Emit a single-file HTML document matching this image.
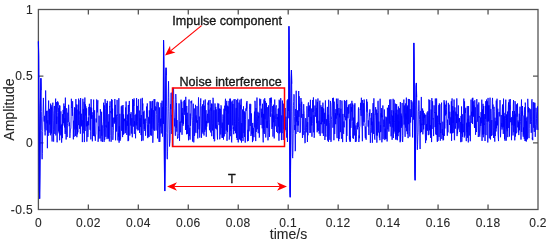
<!DOCTYPE html>
<html><head><meta charset="utf-8"><style>
html,body{margin:0;padding:0;background:#fff;}
body{width:550px;height:243px;overflow:hidden;}
svg{display:block;}
text{font-family:"Liberation Sans",Arial,sans-serif;fill:#262626;}
.an{stroke:#000;stroke-width:0.3px;}
.tl{stroke:#262626;stroke-width:0.1px;}
.tk{letter-spacing:0.35px;}
</style></head><body>
<svg width="550" height="243" viewBox="0 0 550 243">
<rect x="38.4" y="9.5" width="499.6" height="200" fill="none" stroke="#555555" stroke-width="1.3"/>
<path d="M88.36 209.5v-5M88.36 9.5v5M138.32 209.5v-5M138.32 9.5v5M188.28 209.5v-5M188.28 9.5v5M238.24 209.5v-5M238.24 9.5v5M288.20 209.5v-5M288.20 9.5v5M338.16 209.5v-5M338.16 9.5v5M388.12 209.5v-5M388.12 9.5v5M438.08 209.5v-5M438.08 9.5v5M488.04 209.5v-5M488.04 9.5v5M38.4 142.83h5M538.0 142.83h-5M38.4 76.17h5M538.0 76.17h-5" stroke="#555555" stroke-width="1.3" fill="none"/>
<path d="M38.40 41.37 L38.65 55.72 L38.90 103.07 L39.15 142.67 L39.40 189.64 L39.65 198.65 L39.90 175.00 L40.15 142.05 L40.40 105.72 L40.65 91.63 L40.90 78.23 L41.15 90.27 L41.40 111.60 L41.65 130.60 L41.90 155.84 L42.15 159.23 L42.40 153.39 L42.65 131.62 L42.90 116.63 L43.15 106.03 L43.40 97.93 L43.65 108.02 L43.90 115.12 L44.15 121.52 L44.40 115.84 L44.64 129.11 L44.89 132.73 L45.14 135.42 L45.39 132.13 L45.64 90.50 L45.89 109.80 L46.14 130.31 L46.39 111.98 L46.64 111.00 L46.89 123.29 L47.14 110.75 L47.39 148.21 L47.64 121.42 L47.89 120.31 L48.14 135.86 L48.39 108.98 L48.64 100.57 L48.89 114.67 L49.14 132.72 L49.39 108.85 L49.64 124.46 L49.89 123.23 L50.14 109.96 L50.39 135.28 L50.64 103.62 L50.89 109.48 L51.14 105.36 L51.39 133.51 L51.64 107.29 L51.89 136.19 L52.14 141.48 L52.39 105.83 L52.64 104.42 L52.89 102.68 L53.14 120.42 L53.39 129.23 L53.64 141.62 L53.89 113.24 L54.14 110.61 L54.39 105.96 L54.64 131.22 L54.89 133.95 L55.14 114.16 L55.39 106.13 L55.64 98.64 L55.89 135.42 L56.14 120.53 L56.39 102.12 L56.64 123.88 L56.89 116.61 L57.13 142.30 L57.38 112.74 L57.63 101.32 L57.88 105.25 L58.13 102.44 L58.38 112.61 L58.63 131.48 L58.88 107.92 L59.13 133.34 L59.38 105.40 L59.63 140.28 L59.88 105.63 L60.13 135.45 L60.38 125.78 L60.63 128.35 L60.88 111.35 L61.13 134.63 L61.38 124.83 L61.63 142.62 L61.88 131.06 L62.13 123.88 L62.38 138.14 L62.63 114.17 L62.88 125.56 L63.13 109.89 L63.38 113.12 L63.63 123.23 L63.88 103.50 L64.13 114.20 L64.38 106.16 L64.63 127.41 L64.88 118.24 L65.13 133.95 L65.38 97.66 L65.63 131.78 L65.88 131.15 L66.13 139.49 L66.38 131.14 L66.63 108.25 L66.88 111.23 L67.13 137.04 L67.38 125.80 L67.63 123.76 L67.88 112.68 L68.13 122.15 L68.38 116.23 L68.63 104.75 L68.88 109.90 L69.13 126.29 L69.38 122.52 L69.62 126.18 L69.87 137.87 L70.12 133.62 L70.37 129.96 L70.62 128.58 L70.87 128.63 L71.12 116.68 L71.37 98.78 L71.62 107.72 L71.87 106.98 L72.12 108.42 L72.37 115.78 L72.62 101.23 L72.87 111.57 L73.12 120.15 L73.37 139.33 L73.62 120.69 L73.87 133.18 L74.12 136.82 L74.37 119.90 L74.62 107.25 L74.87 129.46 L75.12 107.98 L75.37 119.00 L75.62 136.07 L75.87 99.09 L76.12 124.62 L76.37 129.45 L76.62 104.44 L76.87 137.19 L77.12 109.58 L77.37 134.32 L77.62 125.04 L77.87 132.32 L78.12 104.70 L78.37 125.15 L78.62 98.65 L78.87 114.49 L79.12 111.39 L79.37 119.19 L79.62 128.83 L79.87 124.90 L80.12 100.18 L80.37 133.71 L80.62 98.03 L80.87 108.46 L81.12 126.52 L81.37 113.75 L81.62 125.56 L81.87 125.54 L82.12 119.99 L82.36 142.08 L82.61 120.46 L82.86 98.79 L83.11 129.89 L83.36 108.91 L83.61 122.76 L83.86 133.35 L84.11 101.81 L84.36 142.07 L84.61 129.07 L84.86 97.54 L85.11 130.95 L85.36 104.34 L85.61 115.38 L85.86 106.29 L86.11 114.26 L86.36 126.39 L86.61 108.34 L86.86 141.63 L87.11 122.58 L87.36 125.98 L87.61 121.21 L87.86 137.05 L88.11 132.75 L88.36 117.35 L88.61 125.25 L88.86 106.94 L89.11 115.40 L89.36 103.79 L89.61 109.63 L89.86 115.55 L90.11 129.79 L90.36 107.35 L90.61 131.44 L90.86 139.42 L91.11 99.18 L91.36 118.35 L91.61 107.75 L91.86 118.84 L92.11 115.11 L92.36 141.30 L92.61 134.37 L92.86 112.25 L93.11 116.97 L93.36 135.65 L93.61 99.67 L93.86 135.84 L94.11 119.70 L94.36 136.31 L94.60 110.31 L94.85 130.31 L95.10 136.75 L95.35 140.75 L95.60 134.91 L95.85 134.14 L96.10 118.49 L96.35 122.39 L96.60 99.44 L96.85 99.58 L97.10 106.72 L97.35 112.39 L97.60 104.53 L97.85 100.28 L98.10 141.81 L98.35 137.48 L98.60 126.50 L98.85 138.59 L99.10 115.65 L99.35 131.03 L99.60 130.85 L99.85 129.76 L100.10 138.40 L100.35 109.24 L100.60 113.34 L100.85 115.34 L101.10 141.29 L101.35 123.36 L101.60 111.77 L101.85 135.75 L102.10 125.35 L102.35 141.93 L102.60 139.12 L102.85 133.02 L103.10 124.04 L103.35 121.83 L103.60 102.74 L103.85 128.48 L104.10 141.86 L104.35 105.38 L104.60 140.03 L104.85 138.62 L105.10 99.17 L105.35 108.68 L105.60 127.52 L105.85 136.84 L106.10 125.30 L106.35 127.46 L106.60 103.19 L106.85 123.85 L107.09 139.11 L107.34 100.82 L107.59 114.62 L107.84 137.54 L108.09 137.70 L108.34 121.71 L108.59 138.66 L108.84 114.19 L109.09 114.89 L109.34 141.38 L109.59 106.23 L109.84 107.17 L110.09 101.34 L110.34 112.45 L110.59 111.42 L110.84 135.41 L111.09 141.75 L111.34 139.86 L111.59 99.11 L111.84 113.56 L112.09 99.91 L112.34 126.99 L112.59 108.60 L112.84 139.87 L113.09 135.30 L113.34 130.27 L113.59 117.89 L113.84 117.56 L114.09 120.21 L114.34 123.59 L114.59 116.73 L114.84 99.01 L115.09 122.07 L115.34 104.87 L115.59 140.30 L115.84 125.35 L116.09 117.42 L116.34 114.71 L116.59 131.50 L116.84 124.73 L117.09 99.90 L117.34 113.42 L117.59 116.31 L117.84 139.87 L118.09 140.47 L118.34 133.25 L118.59 136.59 L118.84 98.24 L119.09 142.71 L119.34 126.25 L119.59 140.18 L119.83 113.82 L120.08 140.72 L120.33 139.73 L120.58 139.21 L120.83 130.51 L121.08 116.71 L121.33 106.32 L121.58 130.72 L121.83 130.00 L122.08 105.46 L122.33 109.02 L122.58 137.08 L122.83 106.28 L123.08 105.15 L123.33 134.77 L123.58 114.41 L123.83 133.91 L124.08 131.79 L124.33 120.44 L124.58 119.16 L124.83 121.12 L125.08 118.30 L125.33 133.17 L125.58 107.54 L125.83 130.24 L126.08 101.46 L126.33 119.48 L126.58 129.07 L126.83 134.93 L127.08 120.84 L127.33 125.77 L127.58 114.59 L127.83 120.24 L128.08 141.16 L128.33 105.07 L128.58 140.49 L128.83 105.32 L129.08 105.99 L129.33 100.95 L129.58 112.71 L129.83 135.55 L130.08 122.80 L130.33 122.91 L130.58 114.17 L130.83 125.56 L131.08 112.20 L131.33 133.59 L131.58 126.81 L131.83 118.20 L132.07 123.45 L132.32 137.28 L132.57 99.05 L132.82 111.49 L133.07 105.07 L133.32 126.63 L133.57 100.00 L133.82 106.00 L134.07 98.43 L134.32 133.88 L134.57 121.20 L134.82 125.34 L135.07 115.00 L135.32 131.49 L135.57 138.28 L135.82 121.23 L136.07 113.84 L136.32 125.42 L136.57 98.07 L136.82 124.43 L137.07 129.24 L137.32 105.94 L137.57 121.68 L137.82 130.45 L138.07 129.85 L138.32 99.90 L138.57 99.23 L138.82 113.54 L139.07 130.20 L139.32 110.58 L139.57 133.01 L139.82 128.23 L140.07 118.27 L140.32 124.65 L140.57 126.92 L140.82 98.67 L141.07 135.12 L141.32 115.01 L141.57 141.09 L141.82 138.68 L142.07 133.31 L142.32 97.88 L142.57 109.90 L142.82 103.48 L143.07 140.59 L143.32 111.94 L143.57 122.89 L143.82 123.96 L144.07 110.73 L144.32 128.86 L144.56 119.56 L144.81 131.01 L145.06 125.09 L145.31 118.66 L145.56 135.68 L145.81 130.31 L146.06 123.77 L146.31 121.40 L146.56 106.57 L146.81 113.69 L147.06 117.33 L147.31 103.40 L147.56 133.89 L147.81 138.11 L148.06 124.98 L148.31 136.61 L148.56 117.63 L148.81 116.83 L149.06 136.87 L149.31 110.37 L149.56 117.60 L149.81 123.65 L150.06 101.24 L150.31 104.03 L150.56 132.82 L150.81 135.28 L151.06 101.33 L151.31 135.70 L151.56 108.51 L151.81 128.67 L152.06 126.46 L152.31 117.73 L152.56 100.86 L152.81 142.74 L153.06 135.48 L153.31 110.18 L153.56 124.95 L153.81 129.79 L154.06 99.18 L154.31 130.86 L154.56 110.46 L154.81 99.12 L155.06 108.25 L155.31 110.67 L155.56 110.05 L155.81 106.33 L156.06 130.54 L156.31 114.42 L156.56 106.44 L156.81 102.57 L157.06 101.77 L157.30 101.86 L157.55 138.41 L157.80 125.77 L158.05 122.14 L158.30 102.41 L158.55 123.83 L158.80 130.82 L159.05 141.93 L159.30 129.74 L159.55 107.44 L159.80 141.92 L160.05 135.35 L160.30 128.74 L160.55 118.72 L160.80 126.38 L161.05 102.82 L161.30 133.43 L161.55 117.37 L161.80 107.57 L162.05 100.69 L162.30 103.24 L162.55 136.69 L162.80 106.94 L163.05 112.22 L163.30 123.72 L163.55 40.21 L163.80 57.93 L164.05 93.24 L164.30 147.92 L164.55 179.95 L164.80 191.08 L165.05 170.08 L165.30 141.01 L165.55 106.45 L165.80 75.59 L166.05 67.72 L166.30 75.62 L166.55 106.84 L166.80 132.66 L167.05 156.50 L167.30 159.22 L167.55 151.13 L167.80 133.48 L168.05 108.61 L168.30 91.13 L168.55 81.26 L168.80 97.44 L169.05 111.23 L169.30 129.14 L169.54 146.50 L169.79 143.43 L170.04 141.65 L170.29 131.90 L170.54 104.22 L170.79 109.18 L171.04 93.20 L171.29 92.70 L171.54 130.66 L171.79 134.01 L172.04 114.96 L172.29 116.71 L172.54 111.51 L172.79 145.89 L173.04 100.60 L173.29 88.50 L173.54 87.84 L173.79 99.51 L174.04 108.22 L174.29 114.02 L174.54 126.30 L174.79 118.36 L175.04 128.79 L175.29 135.77 L175.54 135.52 L175.79 94.05 L176.04 99.62 L176.29 127.84 L176.54 103.01 L176.79 131.65 L177.04 120.09 L177.29 133.87 L177.54 138.68 L177.79 136.90 L178.04 137.68 L178.29 134.61 L178.54 133.97 L178.79 134.32 L179.04 103.40 L179.29 120.91 L179.54 140.88 L179.79 123.61 L180.04 121.78 L180.29 121.61 L180.54 132.24 L180.79 120.05 L181.04 99.70 L181.29 122.61 L181.54 118.95 L181.79 101.65 L182.03 134.75 L182.28 112.86 L182.53 123.16 L182.78 107.96 L183.03 125.74 L183.28 116.27 L183.53 123.81 L183.78 101.76 L184.03 100.70 L184.28 114.82 L184.53 99.94 L184.78 111.51 L185.03 106.63 L185.28 102.80 L185.53 130.00 L185.78 96.85 L186.03 123.65 L186.28 119.14 L186.53 134.24 L186.78 105.99 L187.03 128.57 L187.28 112.77 L187.53 133.85 L187.78 127.24 L188.03 125.09 L188.28 131.30 L188.53 140.30 L188.78 107.18 L189.03 99.48 L189.28 132.83 L189.53 136.10 L189.78 127.83 L190.03 139.67 L190.28 113.59 L190.53 125.92 L190.78 116.82 L191.03 101.16 L191.28 103.31 L191.53 100.88 L191.78 100.61 L192.03 116.50 L192.28 120.55 L192.53 141.50 L192.78 138.33 L193.03 118.95 L193.28 103.70 L193.53 122.84 L193.78 142.37 L194.03 133.10 L194.28 108.49 L194.53 135.91 L194.77 134.09 L195.02 130.13 L195.27 115.30 L195.52 104.83 L195.77 132.70 L196.02 115.41 L196.27 118.62 L196.52 122.60 L196.77 116.59 L197.02 106.09 L197.27 133.17 L197.52 120.44 L197.77 138.45 L198.02 119.51 L198.27 106.84 L198.52 97.41 L198.77 121.15 L199.02 129.34 L199.27 116.60 L199.52 126.09 L199.77 137.65 L200.02 119.15 L200.27 106.64 L200.52 102.40 L200.77 98.41 L201.02 126.06 L201.27 131.35 L201.52 137.78 L201.77 123.08 L202.02 106.32 L202.27 132.28 L202.52 104.38 L202.77 110.59 L203.02 133.70 L203.27 114.14 L203.52 105.61 L203.77 100.49 L204.02 135.46 L204.27 105.59 L204.52 107.70 L204.77 131.84 L205.02 129.52 L205.27 99.46 L205.52 126.41 L205.77 129.70 L206.02 110.15 L206.27 136.78 L206.52 120.92 L206.77 126.61 L207.02 118.20 L207.26 115.52 L207.51 113.84 L207.76 123.24 L208.01 102.62 L208.26 104.93 L208.51 100.50 L208.76 122.60 L209.01 109.73 L209.26 123.32 L209.51 130.21 L209.76 113.30 L210.01 99.96 L210.26 106.38 L210.51 129.90 L210.76 132.48 L211.01 107.84 L211.26 110.85 L211.51 103.68 L211.76 136.20 L212.01 103.78 L212.26 123.23 L212.51 130.45 L212.76 127.28 L213.01 97.79 L213.26 99.48 L213.51 139.03 L213.76 128.54 L214.01 110.21 L214.26 141.23 L214.51 141.21 L214.76 140.81 L215.01 103.47 L215.26 127.71 L215.51 128.38 L215.76 106.86 L216.01 128.38 L216.26 109.35 L216.51 126.09 L216.76 129.35 L217.01 125.28 L217.26 135.22 L217.51 139.44 L217.76 103.34 L218.01 103.47 L218.26 121.94 L218.51 111.62 L218.76 103.72 L219.01 125.12 L219.26 110.57 L219.50 108.62 L219.75 139.30 L220.00 136.57 L220.25 108.82 L220.50 110.84 L220.75 134.43 L221.00 105.35 L221.25 106.52 L221.50 127.75 L221.75 127.41 L222.00 137.82 L222.25 122.64 L222.50 137.86 L222.75 118.20 L223.00 114.52 L223.25 116.45 L223.50 139.58 L223.75 114.65 L224.00 108.73 L224.25 136.40 L224.50 115.86 L224.75 105.70 L225.00 134.06 L225.25 101.43 L225.50 98.77 L225.75 110.57 L226.00 103.30 L226.25 130.51 L226.50 112.69 L226.75 100.85 L227.00 140.81 L227.25 105.62 L227.50 132.09 L227.75 106.52 L228.00 113.71 L228.25 106.50 L228.50 124.65 L228.75 122.42 L229.00 100.93 L229.25 139.60 L229.50 135.75 L229.75 98.73 L230.00 101.43 L230.25 136.18 L230.50 98.70 L230.75 130.80 L231.00 102.39 L231.25 101.82 L231.50 141.76 L231.75 142.39 L232.00 128.01 L232.24 100.62 L232.49 106.96 L232.74 125.30 L232.99 103.94 L233.24 128.89 L233.49 127.08 L233.74 134.20 L233.99 99.33 L234.24 106.40 L234.49 121.87 L234.74 130.85 L234.99 99.04 L235.24 124.84 L235.49 133.28 L235.74 123.58 L235.99 110.23 L236.24 107.90 L236.49 137.89 L236.74 99.95 L236.99 112.25 L237.24 140.00 L237.49 104.87 L237.74 98.77 L237.99 104.86 L238.24 142.39 L238.49 121.39 L238.74 116.12 L238.99 102.58 L239.24 120.04 L239.49 139.33 L239.74 100.51 L239.99 99.69 L240.24 120.79 L240.49 140.41 L240.74 104.80 L240.99 109.21 L241.24 98.80 L241.49 142.50 L241.74 123.09 L241.99 129.97 L242.24 137.95 L242.49 109.51 L242.74 127.36 L242.99 141.07 L243.24 136.78 L243.49 106.29 L243.74 115.37 L243.99 133.08 L244.24 111.28 L244.49 136.92 L244.73 112.32 L244.98 113.14 L245.23 142.58 L245.48 119.64 L245.73 109.91 L245.98 108.45 L246.23 110.84 L246.48 102.71 L246.73 108.55 L246.98 101.04 L247.23 124.03 L247.48 141.28 L247.73 134.63 L247.98 129.79 L248.23 140.94 L248.48 137.93 L248.73 119.32 L248.98 131.39 L249.23 129.89 L249.48 109.22 L249.73 104.09 L249.98 103.75 L250.23 126.03 L250.48 110.66 L250.73 104.20 L250.98 135.99 L251.23 133.74 L251.48 113.46 L251.73 130.80 L251.98 134.10 L252.23 126.17 L252.48 142.11 L252.73 122.96 L252.98 140.69 L253.23 131.74 L253.48 132.97 L253.73 127.90 L253.98 137.15 L254.23 121.47 L254.48 111.65 L254.73 127.47 L254.98 100.80 L255.23 103.86 L255.48 128.96 L255.73 141.07 L255.98 108.01 L256.23 131.95 L256.48 127.78 L256.73 116.57 L256.97 97.55 L257.22 129.25 L257.47 121.59 L257.72 114.39 L257.97 111.85 L258.22 133.22 L258.47 115.85 L258.72 118.17 L258.97 112.98 L259.22 137.62 L259.47 137.11 L259.72 98.61 L259.97 105.60 L260.22 105.32 L260.47 100.49 L260.72 99.28 L260.97 125.00 L261.22 108.65 L261.47 113.75 L261.72 117.45 L261.97 112.04 L262.22 128.35 L262.47 103.75 L262.72 124.38 L262.97 136.12 L263.22 142.34 L263.47 113.86 L263.72 132.33 L263.97 99.49 L264.22 133.99 L264.47 128.50 L264.72 98.22 L264.97 119.27 L265.22 101.03 L265.47 107.41 L265.72 137.44 L265.97 133.04 L266.22 125.28 L266.47 102.90 L266.72 127.69 L266.97 121.84 L267.22 121.04 L267.47 128.11 L267.72 107.18 L267.97 140.35 L268.22 132.59 L268.47 105.43 L268.72 114.89 L268.97 119.63 L269.22 126.08 L269.46 136.93 L269.71 122.13 L269.96 98.09 L270.21 115.86 L270.46 116.70 L270.71 97.95 L270.96 102.70 L271.21 97.54 L271.46 99.60 L271.71 112.57 L271.96 128.99 L272.21 114.36 L272.46 127.05 L272.71 106.08 L272.96 136.61 L273.21 121.86 L273.46 104.72 L273.71 122.23 L273.96 115.59 L274.21 138.38 L274.46 129.91 L274.71 99.56 L274.96 113.05 L275.21 126.29 L275.46 119.40 L275.71 107.71 L275.96 107.13 L276.21 105.30 L276.46 129.70 L276.71 132.03 L276.96 113.89 L277.21 118.93 L277.46 117.23 L277.71 133.10 L277.96 128.39 L278.21 108.74 L278.46 126.59 L278.71 108.49 L278.96 140.72 L279.21 99.73 L279.46 133.40 L279.71 121.15 L279.96 101.09 L280.21 131.34 L280.46 132.53 L280.71 98.15 L280.96 101.83 L281.21 118.70 L281.46 140.07 L281.71 115.42 L281.95 131.43 L282.20 133.13 L282.45 100.58 L282.70 114.75 L282.95 122.70 L283.20 139.99 L283.45 125.99 L283.70 103.67 L283.95 129.11 L284.20 128.20 L284.45 115.32 L284.70 131.40 L284.95 117.59 L285.20 107.99 L285.45 129.84 L285.70 121.40 L285.95 116.71 L286.20 126.36 L286.45 132.70 L286.70 137.65 L286.95 117.20 L287.20 100.34 L287.45 141.98 L287.70 103.59 L287.95 99.20 L288.20 118.25 L288.45 98.96 L288.70 110.88 L288.95 26.32 L289.20 49.47 L289.45 94.97 L289.70 145.81 L289.95 191.48 L290.20 197.24 L290.45 180.85 L290.70 139.98 L290.95 97.32 L291.20 79.19 L291.45 70.04 L291.70 83.69 L291.95 111.20 L292.20 133.99 L292.45 156.20 L292.70 158.15 L292.95 152.27 L293.20 133.30 L293.45 105.83 L293.70 101.51 L293.95 94.29 L294.20 95.89 L294.44 116.30 L294.69 130.08 L294.94 124.92 L295.19 151.16 L295.44 150.07 L295.69 109.02 L295.94 133.95 L296.19 90.74 L296.44 113.11 L296.69 121.66 L296.94 116.49 L297.19 125.50 L297.44 110.39 L297.69 121.86 L297.94 131.99 L298.19 121.07 L298.44 125.45 L298.69 91.01 L298.94 116.87 L299.19 96.23 L299.44 110.77 L299.69 103.81 L299.94 132.96 L300.19 131.16 L300.44 131.59 L300.69 107.32 L300.94 98.01 L301.19 101.46 L301.44 117.72 L301.69 101.71 L301.94 108.46 L302.19 120.68 L302.44 137.92 L302.69 136.01 L302.94 113.95 L303.19 134.91 L303.44 116.54 L303.69 104.19 L303.94 110.64 L304.19 113.25 L304.44 130.45 L304.69 138.15 L304.94 143.16 L305.19 142.91 L305.44 133.98 L305.69 118.15 L305.94 123.14 L306.19 132.38 L306.44 127.71 L306.69 120.86 L306.94 106.23 L307.18 113.51 L307.43 142.00 L307.68 122.20 L307.93 135.31 L308.18 104.41 L308.43 102.45 L308.68 117.03 L308.93 108.68 L309.18 111.11 L309.43 105.59 L309.68 130.42 L309.93 133.00 L310.18 109.66 L310.43 99.85 L310.68 132.59 L310.93 116.95 L311.18 117.80 L311.43 125.48 L311.68 108.50 L311.93 136.74 L312.18 126.10 L312.43 123.60 L312.68 99.99 L312.93 112.09 L313.18 110.70 L313.43 97.43 L313.68 132.35 L313.93 115.24 L314.18 137.78 L314.43 135.40 L314.68 111.34 L314.93 105.56 L315.18 114.21 L315.43 116.70 L315.68 107.05 L315.93 99.44 L316.18 100.77 L316.43 106.04 L316.68 123.15 L316.93 108.06 L317.18 132.27 L317.43 101.94 L317.68 130.26 L317.93 98.47 L318.18 129.19 L318.43 130.84 L318.68 127.53 L318.93 120.77 L319.18 133.70 L319.43 130.86 L319.67 102.77 L319.92 100.66 L320.17 135.85 L320.42 122.87 L320.67 123.82 L320.92 105.27 L321.17 112.86 L321.42 124.30 L321.67 107.05 L321.92 115.39 L322.17 133.35 L322.42 106.93 L322.67 121.76 L322.92 102.65 L323.17 112.69 L323.42 135.97 L323.67 108.51 L323.92 116.46 L324.17 118.27 L324.42 123.80 L324.67 112.79 L324.92 139.98 L325.17 120.01 L325.42 100.44 L325.67 133.55 L325.92 136.62 L326.17 124.21 L326.42 119.27 L326.67 125.76 L326.92 120.89 L327.17 112.25 L327.42 106.90 L327.67 140.50 L327.92 125.54 L328.17 114.76 L328.42 141.88 L328.67 99.80 L328.92 113.78 L329.17 120.84 L329.42 122.51 L329.67 136.16 L329.92 139.83 L330.17 111.97 L330.42 100.95 L330.67 106.91 L330.92 141.86 L331.17 141.06 L331.42 119.59 L331.67 116.84 L331.91 115.34 L332.16 103.12 L332.41 102.13 L332.66 97.99 L332.91 127.71 L333.16 121.59 L333.41 97.79 L333.66 111.08 L333.91 140.23 L334.16 101.60 L334.41 114.88 L334.66 134.05 L334.91 127.07 L335.16 116.65 L335.41 113.24 L335.66 124.21 L335.91 109.09 L336.16 118.68 L336.41 98.64 L336.66 104.14 L336.91 136.03 L337.16 138.16 L337.41 104.14 L337.66 115.28 L337.91 98.58 L338.16 123.08 L338.41 134.70 L338.66 141.16 L338.91 107.99 L339.16 139.05 L339.41 113.64 L339.66 117.29 L339.91 109.31 L340.16 100.04 L340.41 132.11 L340.66 120.96 L340.91 108.76 L341.16 133.66 L341.41 138.66 L341.66 136.58 L341.91 100.60 L342.16 107.05 L342.41 133.75 L342.66 142.11 L342.91 113.92 L343.16 128.24 L343.41 132.50 L343.66 133.79 L343.91 121.43 L344.16 127.32 L344.40 100.21 L344.65 117.18 L344.90 102.03 L345.15 100.92 L345.40 102.03 L345.65 120.24 L345.90 116.39 L346.15 118.61 L346.40 141.91 L346.65 99.93 L346.90 135.98 L347.15 117.74 L347.40 111.89 L347.65 107.19 L347.90 118.25 L348.15 113.86 L348.40 105.34 L348.65 113.66 L348.90 112.60 L349.15 104.12 L349.40 139.51 L349.65 119.33 L349.90 141.63 L350.15 135.97 L350.40 141.54 L350.65 103.56 L350.90 127.89 L351.15 119.21 L351.40 107.14 L351.65 111.60 L351.90 100.84 L352.15 120.63 L352.40 110.99 L352.65 103.50 L352.90 137.97 L353.15 121.53 L353.40 138.84 L353.65 117.58 L353.90 128.63 L354.15 104.73 L354.40 121.60 L354.65 135.45 L354.90 103.24 L355.15 123.53 L355.40 141.94 L355.65 130.65 L355.90 125.47 L356.15 141.64 L356.40 136.48 L356.65 129.39 L356.89 127.53 L357.14 123.00 L357.39 129.34 L357.64 128.30 L357.89 121.89 L358.14 126.88 L358.39 108.84 L358.64 107.42 L358.89 142.03 L359.14 135.49 L359.39 138.22 L359.64 126.84 L359.89 126.68 L360.14 108.87 L360.39 109.76 L360.64 102.83 L360.89 111.87 L361.14 115.84 L361.39 97.76 L361.64 113.73 L361.89 125.18 L362.14 129.02 L362.39 141.21 L362.64 100.03 L362.89 108.71 L363.14 125.74 L363.39 103.17 L363.64 108.25 L363.89 121.75 L364.14 99.50 L364.39 102.38 L364.64 122.61 L364.89 123.48 L365.14 135.96 L365.39 138.19 L365.64 126.64 L365.89 133.10 L366.14 139.72 L366.39 109.49 L366.64 99.26 L366.89 111.67 L367.14 101.70 L367.39 103.38 L367.64 113.55 L367.89 119.14 L368.14 126.61 L368.39 120.39 L368.64 128.27 L368.89 135.03 L369.14 120.38 L369.38 112.86 L369.63 116.30 L369.88 109.39 L370.13 127.60 L370.38 142.83 L370.63 133.19 L370.88 129.70 L371.13 117.76 L371.38 125.18 L371.63 113.02 L371.88 132.68 L372.13 121.62 L372.38 142.73 L372.63 111.72 L372.88 103.60 L373.13 103.91 L373.38 103.18 L373.63 133.94 L373.88 98.34 L374.13 117.84 L374.38 134.42 L374.63 138.71 L374.88 139.62 L375.13 113.96 L375.38 114.34 L375.63 107.17 L375.88 112.98 L376.13 119.29 L376.38 135.45 L376.63 109.54 L376.88 142.65 L377.13 112.90 L377.38 135.34 L377.63 135.63 L377.88 101.76 L378.13 100.80 L378.38 110.18 L378.63 132.47 L378.88 121.55 L379.13 127.14 L379.38 137.50 L379.63 132.10 L379.88 140.21 L380.13 98.76 L380.38 132.12 L380.63 125.28 L380.88 131.65 L381.13 113.31 L381.38 117.33 L381.63 108.12 L381.88 142.32 L382.12 133.55 L382.37 115.69 L382.62 116.70 L382.87 105.46 L383.12 139.18 L383.37 126.01 L383.62 124.53 L383.87 119.58 L384.12 126.90 L384.37 109.53 L384.62 138.10 L384.87 140.08 L385.12 128.62 L385.37 138.78 L385.62 125.04 L385.87 116.61 L386.12 139.02 L386.37 121.99 L386.62 117.66 L386.87 117.24 L387.12 141.46 L387.37 107.78 L387.62 110.10 L387.87 129.37 L388.12 121.47 L388.37 109.32 L388.62 105.02 L388.87 131.60 L389.12 107.89 L389.37 123.60 L389.62 99.62 L389.87 103.01 L390.12 126.60 L390.37 126.52 L390.62 120.81 L390.87 99.28 L391.12 136.31 L391.37 117.95 L391.62 113.47 L391.87 110.19 L392.12 139.79 L392.37 115.66 L392.62 122.41 L392.87 127.45 L393.12 98.84 L393.37 138.03 L393.62 110.71 L393.87 133.57 L394.12 99.85 L394.36 120.15 L394.61 122.28 L394.86 131.57 L395.11 118.64 L395.36 103.65 L395.61 139.57 L395.86 112.99 L396.11 136.19 L396.36 132.63 L396.61 104.13 L396.86 139.56 L397.11 109.66 L397.36 140.21 L397.61 119.73 L397.86 114.57 L398.11 136.17 L398.36 106.47 L398.61 132.81 L398.86 121.27 L399.11 131.94 L399.36 108.22 L399.61 131.45 L399.86 130.95 L400.11 142.28 L400.36 102.04 L400.61 141.31 L400.86 128.57 L401.11 113.50 L401.36 127.78 L401.61 115.76 L401.86 126.31 L402.11 102.94 L402.36 135.63 L402.61 142.00 L402.86 138.31 L403.11 119.08 L403.36 115.98 L403.61 105.03 L403.86 99.56 L404.11 124.64 L404.36 105.49 L404.61 124.47 L404.86 126.03 L405.11 136.82 L405.36 103.45 L405.61 127.60 L405.86 113.52 L406.11 119.39 L406.36 97.64 L406.61 131.24 L406.85 117.83 L407.10 107.04 L407.35 134.17 L407.60 105.52 L407.85 117.53 L408.10 138.14 L408.35 98.95 L408.60 124.16 L408.85 121.28 L409.10 107.27 L409.35 99.10 L409.60 131.70 L409.85 136.66 L410.10 109.07 L410.35 112.14 L410.60 122.59 L410.85 113.48 L411.10 100.03 L411.35 104.67 L411.60 117.07 L411.85 101.64 L412.10 101.45 L412.35 107.87 L412.60 137.46 L412.85 117.37 L413.10 115.30 L413.35 102.97 L413.60 119.43 L413.85 42.89 L414.10 60.40 L414.35 104.47 L414.60 144.99 L414.85 173.82 L415.10 180.32 L415.35 164.95 L415.60 140.25 L415.85 105.66 L416.10 86.60 L416.35 82.93 L416.60 97.26 L416.85 109.81 L417.10 134.23 L417.35 149.77 L417.60 144.47 L417.85 136.38 L418.10 132.44 L418.35 111.70 L418.60 108.97 L418.85 100.49 L419.10 104.63 L419.34 114.15 L419.59 119.49 L419.84 126.93 L420.09 149.04 L420.34 110.91 L420.59 132.97 L420.84 115.07 L421.09 115.15 L421.34 96.95 L421.59 132.00 L421.84 123.67 L422.09 125.19 L422.34 121.67 L422.59 108.50 L422.84 134.31 L423.09 129.00 L423.34 110.73 L423.59 129.35 L423.84 115.10 L424.09 124.85 L424.34 113.32 L424.59 117.72 L424.84 114.68 L425.09 126.74 L425.34 134.80 L425.59 143.08 L425.84 114.75 L426.09 130.65 L426.34 140.32 L426.59 124.10 L426.84 129.79 L427.09 112.48 L427.34 130.79 L427.59 127.85 L427.84 111.28 L428.09 112.72 L428.34 135.14 L428.59 115.24 L428.84 99.41 L429.09 100.75 L429.34 104.02 L429.59 130.35 L429.84 100.06 L430.09 134.62 L430.34 125.24 L430.59 137.88 L430.84 116.99 L431.09 109.58 L431.34 111.09 L431.59 142.08 L431.83 98.14 L432.08 128.93 L432.33 109.58 L432.58 101.24 L432.83 107.78 L433.08 119.22 L433.33 118.31 L433.58 136.07 L433.83 125.23 L434.08 105.33 L434.33 111.88 L434.58 112.83 L434.83 112.12 L435.08 127.19 L435.33 98.55 L435.58 127.64 L435.83 134.30 L436.08 112.40 L436.33 135.02 L436.58 98.52 L436.83 116.71 L437.08 137.42 L437.33 141.85 L437.58 115.68 L437.83 141.00 L438.08 140.48 L438.33 124.11 L438.58 122.45 L438.83 105.18 L439.08 136.92 L439.33 103.45 L439.58 124.49 L439.83 104.21 L440.08 136.02 L440.33 140.69 L440.58 123.09 L440.83 133.04 L441.08 121.12 L441.33 105.62 L441.58 102.67 L441.83 138.89 L442.08 131.19 L442.33 129.03 L442.58 134.95 L442.83 121.68 L443.08 140.41 L443.33 133.88 L443.58 139.87 L443.83 122.10 L444.08 100.21 L444.32 135.89 L444.57 102.62 L444.82 128.53 L445.07 108.98 L445.32 104.64 L445.57 115.41 L445.82 110.22 L446.07 114.17 L446.32 100.64 L446.57 107.52 L446.82 123.78 L447.07 129.65 L447.32 135.73 L447.57 119.62 L447.82 132.45 L448.07 132.19 L448.32 102.85 L448.57 111.11 L448.82 118.37 L449.07 104.61 L449.32 119.01 L449.57 124.95 L449.82 111.76 L450.07 115.24 L450.32 133.38 L450.57 128.39 L450.82 117.40 L451.07 132.92 L451.32 101.27 L451.57 140.82 L451.82 103.10 L452.07 98.41 L452.32 114.94 L452.57 133.23 L452.82 106.13 L453.07 122.83 L453.32 110.54 L453.57 128.20 L453.82 132.79 L454.07 99.57 L454.32 139.40 L454.57 140.20 L454.82 107.35 L455.07 107.68 L455.32 128.71 L455.57 125.88 L455.82 111.65 L456.07 115.64 L456.32 113.44 L456.57 123.10 L456.81 98.40 L457.06 136.12 L457.31 114.19 L457.56 133.49 L457.81 127.65 L458.06 129.35 L458.31 105.43 L458.56 116.54 L458.81 127.84 L459.06 118.55 L459.31 121.92 L459.56 118.17 L459.81 132.06 L460.06 125.88 L460.31 122.05 L460.56 139.06 L460.81 142.18 L461.06 115.92 L461.31 133.45 L461.56 106.47 L461.81 141.70 L462.06 132.71 L462.31 114.28 L462.56 136.85 L462.81 123.76 L463.06 129.31 L463.31 130.66 L463.56 132.18 L463.81 98.59 L464.06 128.34 L464.31 137.49 L464.56 101.34 L464.81 135.65 L465.06 109.44 L465.31 112.97 L465.56 110.30 L465.81 107.77 L466.06 134.66 L466.31 141.14 L466.56 123.31 L466.81 122.67 L467.06 132.11 L467.31 106.11 L467.56 137.89 L467.81 120.28 L468.06 118.88 L468.31 142.41 L468.56 106.07 L468.81 126.60 L469.06 122.07 L469.30 135.54 L469.55 124.74 L469.80 122.32 L470.05 115.53 L470.30 141.23 L470.55 123.46 L470.80 120.66 L471.05 99.65 L471.30 115.83 L471.55 111.75 L471.80 122.88 L472.05 120.45 L472.30 98.29 L472.55 124.02 L472.80 97.78 L473.05 115.20 L473.30 101.29 L473.55 116.68 L473.80 105.58 L474.05 105.56 L474.30 125.35 L474.55 127.91 L474.80 100.24 L475.05 127.90 L475.30 107.32 L475.55 134.79 L475.80 120.66 L476.05 125.70 L476.30 130.32 L476.55 132.04 L476.80 99.08 L477.05 112.51 L477.30 121.75 L477.55 116.86 L477.80 104.50 L478.05 112.15 L478.30 137.01 L478.55 133.27 L478.80 102.43 L479.05 117.55 L479.30 116.07 L479.55 135.44 L479.80 136.62 L480.05 133.01 L480.30 128.08 L480.55 117.50 L480.80 125.95 L481.05 112.12 L481.30 123.28 L481.55 119.52 L481.79 99.68 L482.04 140.92 L482.29 113.96 L482.54 109.46 L482.79 134.67 L483.04 103.82 L483.29 137.26 L483.54 106.17 L483.79 134.10 L484.04 123.51 L484.29 124.90 L484.54 116.89 L484.79 114.06 L485.04 141.00 L485.29 105.89 L485.54 118.97 L485.79 101.20 L486.04 135.17 L486.29 122.69 L486.54 99.52 L486.79 114.06 L487.04 119.84 L487.29 121.51 L487.54 101.35 L487.79 142.48 L488.04 97.93 L488.29 121.49 L488.54 105.58 L488.79 120.92 L489.04 105.35 L489.29 138.37 L489.54 123.54 L489.79 107.92 L490.04 97.66 L490.29 119.57 L490.54 139.46 L490.79 108.94 L491.04 113.44 L491.29 136.05 L491.54 133.33 L491.79 120.08 L492.04 135.30 L492.29 101.28 L492.54 97.92 L492.79 108.72 L493.04 104.57 L493.29 127.82 L493.54 138.00 L493.79 109.78 L494.04 106.84 L494.28 111.34 L494.53 134.81 L494.78 141.62 L495.03 117.69 L495.28 136.04 L495.53 129.47 L495.78 121.24 L496.03 131.46 L496.28 100.55 L496.53 128.26 L496.78 117.40 L497.03 98.72 L497.28 112.42 L497.53 125.35 L497.78 108.70 L498.03 134.06 L498.28 138.12 L498.53 141.08 L498.78 112.56 L499.03 113.00 L499.28 112.42 L499.53 112.31 L499.78 116.41 L500.03 100.14 L500.28 121.99 L500.53 137.24 L500.78 131.50 L501.03 124.32 L501.28 115.07 L501.53 126.62 L501.78 123.08 L502.03 129.52 L502.28 109.84 L502.53 104.52 L502.78 127.48 L503.03 106.55 L503.28 133.90 L503.53 98.64 L503.78 126.69 L504.03 112.85 L504.28 115.53 L504.53 139.11 L504.78 116.28 L505.03 140.72 L505.28 120.82 L505.53 118.48 L505.78 99.68 L506.03 134.58 L506.28 140.63 L506.53 114.41 L506.77 128.78 L507.02 117.89 L507.27 131.25 L507.52 111.54 L507.77 137.13 L508.02 119.63 L508.27 107.86 L508.52 102.38 L508.77 127.97 L509.02 117.96 L509.27 99.62 L509.52 136.56 L509.77 105.20 L510.02 109.62 L510.27 99.04 L510.52 120.69 L510.77 122.19 L511.02 118.11 L511.27 126.46 L511.52 140.19 L511.77 117.06 L512.02 125.16 L512.27 119.93 L512.52 111.12 L512.77 124.98 L513.02 135.48 L513.27 105.17 L513.52 100.03 L513.77 132.19 L514.02 115.14 L514.27 125.73 L514.52 111.01 L514.77 140.35 L515.02 101.15 L515.27 104.09 L515.52 136.55 L515.77 113.77 L516.02 127.85 L516.27 133.31 L516.52 104.41 L516.77 108.70 L517.02 116.67 L517.27 114.71 L517.52 103.41 L517.77 127.36 L518.02 120.48 L518.27 132.43 L518.52 122.29 L518.77 135.08 L519.02 127.17 L519.26 113.67 L519.51 130.29 L519.76 113.24 L520.01 106.70 L520.26 114.29 L520.51 121.56 L520.76 125.12 L521.01 139.55 L521.26 108.10 L521.51 99.52 L521.76 131.90 L522.01 111.27 L522.26 115.51 L522.51 105.99 L522.76 111.87 L523.01 133.94 L523.26 136.72 L523.51 127.56 L523.76 134.40 L524.01 115.53 L524.26 138.85 L524.51 112.22 L524.76 107.23 L525.01 140.96 L525.26 102.61 L525.51 105.65 L525.76 140.90 L526.01 118.01 L526.26 141.58 L526.51 121.22 L526.76 139.16 L527.01 116.73 L527.26 139.34 L527.51 138.79 L527.76 98.83 L528.01 106.17 L528.26 112.34 L528.51 107.14 L528.76 133.14 L529.01 138.14 L529.26 128.23 L529.51 108.34 L529.76 108.59 L530.01 110.30 L530.26 123.93 L530.51 119.77 L530.76 109.29 L531.01 116.20 L531.26 132.80 L531.51 121.52 L531.75 100.45 L532.00 99.26 L532.25 139.32 L532.50 137.41 L532.75 140.20 L533.00 119.93 L533.25 102.12 L533.50 119.49 L533.75 127.75 L534.00 102.89 L534.25 131.89 L534.50 117.92 L534.75 102.69 L535.00 103.32 L535.25 136.84 L535.50 129.00 L535.75 124.35 L536.00 107.81 L536.25 111.70 L536.50 118.50 L536.75 125.75 L537.00 129.83 L537.25 116.43 L537.50 106.39 L537.75 126.91 L538.00 129.95" fill="none" stroke="#0000ff" stroke-width="0.85" stroke-linejoin="miter"/>
<path d="M38.40 41.37 L38.65 55.72 L38.90 103.07 L39.15 142.67 L39.40 189.64 L39.65 198.65 L39.90 175.00 L40.15 142.05 L40.40 105.72 L40.65 91.63 L40.90 78.23 L41.15 90.27M163.30 123.72 L163.55 40.21 L163.80 57.93 L164.05 93.24 L164.30 147.92 L164.55 179.95 L164.80 191.08 L165.05 170.08 L165.30 141.01 L165.55 106.45 L165.80 75.59 L166.05 67.72 L166.30 75.62M288.70 110.88 L288.95 26.32 L289.20 49.47 L289.45 94.97 L289.70 145.81 L289.95 191.48 L290.20 197.24 L290.45 180.85 L290.70 139.98 L290.95 97.32 L291.20 79.19 L291.45 70.04 L291.70 83.69M413.60 119.43 L413.85 42.89 L414.10 60.40 L414.35 104.47 L414.60 144.99 L414.85 173.82 L415.10 180.32 L415.35 164.95 L415.60 140.25 L415.85 105.66 L416.10 86.60 L416.35 82.93 L416.60 97.26" fill="none" stroke="#0000ff" stroke-width="1.1" stroke-linejoin="miter"/>
<g font-size="12" class="tl tk"><text x="38.40" y="227" text-anchor="middle">0</text><text x="88.36" y="227" text-anchor="middle">0.02</text><text x="138.32" y="227" text-anchor="middle">0.04</text><text x="188.28" y="227" text-anchor="middle">0.06</text><text x="238.24" y="227" text-anchor="middle">0.08</text><text x="288.20" y="227" text-anchor="middle">0.1</text><text x="338.16" y="227" text-anchor="middle">0.12</text><text x="388.12" y="227" text-anchor="middle">0.14</text><text x="438.08" y="227" text-anchor="middle">0.16</text><text x="488.04" y="227" text-anchor="middle">0.18</text><text x="538.00" y="227" text-anchor="middle">0.2</text><text x="32.95" y="213.80" text-anchor="end">-0.5</text><text x="32.95" y="147.13" text-anchor="end">0</text><text x="32.95" y="80.47" text-anchor="end">0.5</text><text x="32.95" y="13.80" text-anchor="end">1</text></g>
<text x="288.5" y="238.5" font-size="14" text-anchor="middle" class="tl">time/s</text>
<text transform="translate(14 109.5) rotate(-90)" font-size="14" text-anchor="middle" class="tl">Amplitude</text>
<text x="172.2" y="25.4" font-size="12.6" fill="#000" class="an">Impulse component</text>
<text x="179.5" y="85.6" font-size="12.6" fill="#000" class="an">Noise interference</text>
<text x="227.9" y="183.2" font-size="12.6" fill="#000" class="an">T</text>
<rect x="172.5" y="88" width="112" height="58.5" fill="none" stroke="#f00" stroke-width="1.5"/>
<path d="M201.5 25.6 L170.58 50.85" stroke="#f00" stroke-width="1.2" fill="none"/><path d="M165.00 55.40 L175.47 52.41 L170.58 50.85 L170.03 45.74Z" fill="#f00"/><path d="M174.20 186.50 L279.80 186.50" stroke="#f00" stroke-width="1.1" fill="none"/><path d="M167.00 186.50 L177.00 190.80 L174.20 186.50 L177.00 182.20ZM287.00 186.50 L277.00 182.20 L279.80 186.50 L277.00 190.80Z" fill="#f00"/>
</svg>
</body></html>
